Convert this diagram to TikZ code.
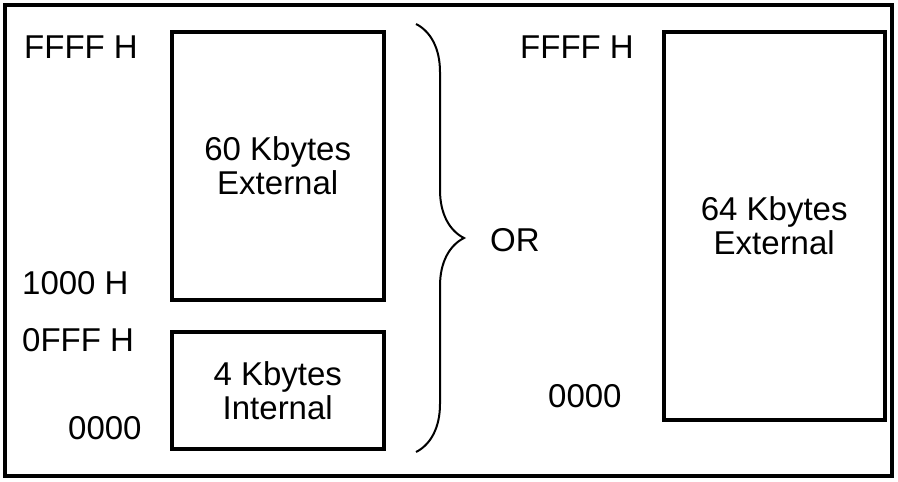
\documentclass[tikz,border=0pt]{standalone}
\usepackage{fontspec}
\setmainfont{Liberation Sans}
\usetikzlibrary{decorations.pathreplacing}
\begin{document}
\begin{tikzpicture}[x=1pt,y=-1pt,
  box/.style={draw,line width=3.5pt},
  lbl/.style={font=\fontsize{33}{34}\selectfont,inner sep=0pt}]
\useasboundingbox (0,0) rectangle (898,482);
\draw[line width=4pt] (5,5) rectangle (892,476);
\node[box,minimum width=212pt,minimum height=268pt,anchor=north west] (ext60) at (170,30) {};
\node[lbl,align=center] at (ext60) {60 Kbytes\\External};
\node[box,minimum width=212pt,minimum height=117pt,anchor=north west] (int4) at (170,330) {};
\node[lbl,align=center] at (int4) {4 Kbytes\\Internal};
\node[box,minimum width=221pt,minimum height=388pt,anchor=north west] (ext64) at (662,30) {};
\node[lbl,align=center] at (ext64) {64 Kbytes\\External};
\node[lbl,anchor=west] (a) at (24,47) {FFFF H};
\node[lbl,anchor=west] (b) at (22,283) {1000 H};
\node[lbl,anchor=west] (c) at (22,340) {0FFF H};
\node[lbl,anchor=west] (d) at (68,428) {0000};
\node[lbl,anchor=west] (e) at (520,47) {FFFF H};
\node[lbl,anchor=west] (f) at (548,396) {0000};
\node[lbl,anchor=west] (or) at (490,240) {OR};
\coordinate (bt) at (416,24);
\coordinate (bb) at (416,452);
\draw[line width=2pt,decorate,decoration={brace,amplitude=48pt,aspect=0.5}] (bt) -- (bb);
\end{tikzpicture}
\end{document}
